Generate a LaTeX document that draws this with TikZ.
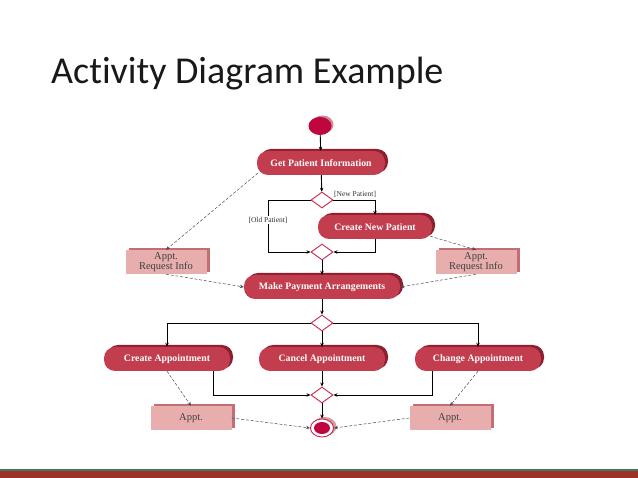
\documentclass[tikz,border=0pt]{standalone}
\usepackage{fontspec}
\setmainfont[RawFeature={-liga;-dlig}]{Carlito}
\newfontfamily\umlfont{Liberation Serif}
\usetikzlibrary{shadows,arrows.meta,shapes.geometric}
\definecolor{actred}{HTML}{C23E4E}
\definecolor{actdark}{HTML}{8E1F30}
\definecolor{objpink}{HTML}{E8AEAE}
\definecolor{objdark}{HTML}{C26E74}
\definecolor{decred}{HTML}{C8284A}
\definecolor{startred}{HTML}{C0063E}
\definecolor{barred}{HTML}{A0302A}
\definecolor{bargreen}{HTML}{3C7A5C}
\tikzset{
  act/.style={rectangle, rounded corners=11pt, fill=actred, text=white,
    font=\umlfont\bfseries\fontsize{9.8}{10}\selectfont, minimum height=24pt, inner sep=0pt,
    general shadow={fill=actdark, shadow xshift=3pt, shadow yshift=2pt}},
  obj/.style={rectangle, fill=objpink, text=black!75, align=center,
    font=\umlfont\fontsize{10.5}{10.5}\selectfont, minimum height=24pt, minimum width=81pt, inner sep=0pt,
    general shadow={fill=objdark, shadow xshift=3pt, shadow yshift=2pt}},
  dec/.style={diamond, draw=decred, fill=white, line width=0.9pt, minimum width=22pt, minimum height=16pt, inner sep=0pt, aspect=1.4},
  flow/.style={draw=black, line width=0.9pt, -{Stealth[length=4pt,width=3.5pt]}},
  plain/.style={draw=black, line width=0.9pt},
  dep/.style={draw=black!70, line width=0.5pt, dash pattern=on 3pt off 1.8pt, -{Stealth[length=4pt,width=3.5pt]}},
  guard/.style={font=\umlfont\fontsize{7.5}{8}\selectfont, text=black!80, inner sep=1pt}
}
\begin{document}
\begin{tikzpicture}[x=1pt,y=-1pt]
\useasboundingbox (0,0) rectangle (638,478);
% bottom bar
\fill[bargreen] (0,469.5) rectangle (638,471.5);
\fill[barred] (0,471.5) rectangle (638,478);
% title
\node[anchor=base west, font=\fontsize{38}{44}\selectfont, inner sep=0pt, text=black!90] (title) at (51,84) {Activity Diagram Example};
% start
\fill[objdark!80] (322.5,124.5) ellipse (11pt and 9pt);
\node[ellipse, fill=startred, minimum width=23pt, minimum height=18pt, inner sep=0pt] (start) at (320,126) {};
% activities
\node[act, minimum width=128pt] (gpi) at (321,163) {Get Patient Information};
\node[dec] (d1) at (322,200) {};
\node[act, minimum width=114pt] (cnp) at (375,227) {Create New Patient};
\node[dec] (d2) at (322,252) {};
\node[act, minimum width=156pt] (mpa) at (322,287) {Make Payment Arrangements};
\node[dec] (d3) at (322,323) {};
\node[act, minimum width=126pt] (ca) at (167,359) {Create Appointment};
\node[act, minimum width=126pt] (xa) at (322,359) {Cancel Appointment};
\node[act, minimum width=126pt] (cha) at (478,359) {Change Appointment};
\node[dec] (d4) at (322,395) {};
% objects
\node[obj] (ari1) at (166,262) {Appt.\\Request Info};
\node[obj] (ari2) at (476,262) {Appt.\\Request Info};
\node[obj] (ap1) at (191,418) {Appt.};
\node[obj] (ap2) at (450,418) {Appt.};
% end
\fill[objdark!70] (324.5,426.5) ellipse (12pt and 9.5pt);
\node[ellipse, draw=decred, fill=white, line width=0.9pt, minimum width=23pt, minimum height=18pt, inner sep=0pt] (end) at (322,428) {};
\fill[startred] (end.center) ellipse (8pt and 6pt);
% guards
\node[guard, anchor=west] (gnew) at (333,194) {[New Patient]};
\node[guard] (gold) at (268,220) {[Old Patient]};
% flows
\draw[flow] (start) -- (gpi);
\draw[flow] (gpi) -- (d1);
\draw[flow] (d1.east) -| (cnp.north);
\draw[plain] (d1.west) -| (gold.north);
\draw[flow] (gold.south) |- (d2.west);
\draw[flow] (cnp.south) |- (d2.east);
\draw[flow] (d2) -- (mpa);
\draw[flow] (mpa) -- (d3);
\draw[flow] (d3.west) -| (ca.north);
\draw[flow] (d3.east) -| (cha.north);
\draw[flow] (d3) -- (xa);
\draw[flow] (ca.south east) ++(-17,0) coordinate (caout) |- (d4.west);
\draw[flow] (cha.south west) ++(18,0) coordinate (chaout) |- (d4.east);
\draw[flow] (xa) -- (d4);
\draw[flow] (d4) -- (end);
% object flows
\draw[dep] (gpi.south west) ++(1,-2) coordinate (g1) -- (ari1.north);
\draw[dep] (cnp.south east) ++(-2,-3) coordinate (c1) -- (ari2.north);
\draw[dep] (ari1.south) -- (mpa.west);
\draw[dep] (ari2.south) -- (mpa.east);
\draw[dep] (ca.south) -- (ap1.north);
\draw[dep] (cha.south) -- (ap2.north);
\draw[dep] (ap1.east) -- (end.west);
\draw[dep] (ap2.west) -- (end.east);
\end{tikzpicture}
\end{document}
